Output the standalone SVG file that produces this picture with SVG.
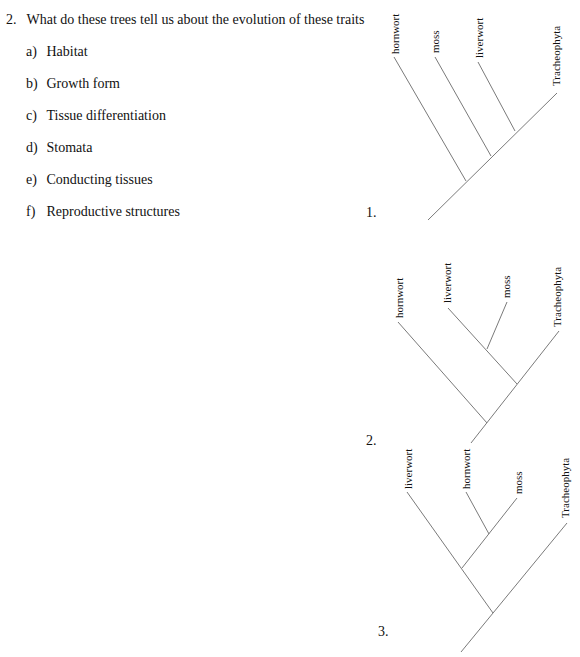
<svg xmlns="http://www.w3.org/2000/svg" width="580" height="657" viewBox="0 0 580 657">
<style>
text{font-family:"Liberation Serif","Times New Roman",serif;fill:#111}
.q{font-size:14px}
.lb{font-size:11px}
.br{stroke:#7a7a7a;stroke-width:1;fill:none}
</style>
<rect width="580" height="657" fill="#fff"/>
<g id="question">
<text class="q" x="6" y="24">2.</text>
<text class="q" x="26.5" y="24">What do these trees tell us about the evolution of these traits</text>
<text class="q" x="26" y="56">a)</text><text class="q" x="46.5" y="56">Habitat</text>
<text class="q" x="26" y="88">b)</text><text class="q" x="46.5" y="88">Growth form</text>
<text class="q" x="26" y="120">c)</text><text class="q" x="46.5" y="120">Tissue differentiation</text>
<text class="q" x="26" y="152">d)</text><text class="q" x="46.5" y="152">Stomata</text>
<text class="q" x="26" y="184">e)</text><text class="q" x="46.5" y="184">Conducting tissues</text>
<text class="q" x="26" y="216">f)</text><text class="q" x="46.5" y="216">Reproductive structures</text>
</g>
<g id="connectors">
<!-- tree 1 -->
<path class="br" d="M428,220 L557,93 M466,181 L394,57 M491,156 L435,57 M515,131 L478,62"/>
<!-- tree 2 -->
<path class="br" d="M471,443 L559,331 M487,423 L398,322 M517,384 L448,308 M487,349 L507,302"/>
<!-- tree 3 -->
<path class="br" d="M461,652 L567,523 M493,613 L407,492 M462,568 L517,498 M489,534 L466,492"/>
</g>
<g id="tree1">
<text class="q" x="366" y="217">1.</text>
<text class="lb" transform="translate(399,54) rotate(-90)">hornwort</text>
<text class="lb" transform="translate(439,53) rotate(-90)">moss</text>
<text class="lb" transform="translate(483,58) rotate(-90)">liverwort</text>
<text class="lb" transform="translate(560,86) rotate(-90)">Tracheophyta</text>
</g>
<g id="tree2">
<text class="q" x="366" y="445">2.</text>
<text class="lb" transform="translate(403,318) rotate(-90)">hornwort</text>
<text class="lb" transform="translate(451,303) rotate(-90)">liverwort</text>
<text class="lb" transform="translate(510,298) rotate(-90)">moss</text>
<text class="lb" transform="translate(561,327) rotate(-90)">Tracheophyta</text>
</g>
<g id="tree3">
<text class="q" x="378" y="636">3.</text>
<text class="lb" transform="translate(412,489) rotate(-90)">liverwort</text>
<text class="lb" transform="translate(470,489) rotate(-90)">hornwort</text>
<text class="lb" transform="translate(522,494) rotate(-90)">moss</text>
<text class="lb" transform="translate(569,518) rotate(-90)">Tracheophyta</text>
</g>
</svg>
